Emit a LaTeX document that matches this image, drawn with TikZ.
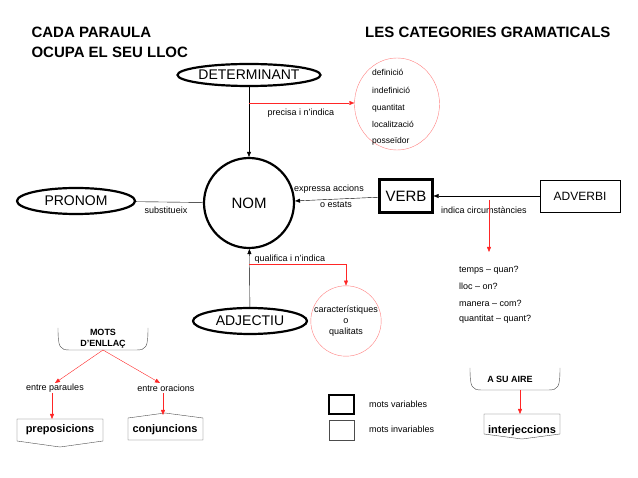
\documentclass[tikz,border=0pt]{standalone}
\usepackage{fontspec}
\setmainfont{Liberation Sans}
\usetikzlibrary{arrows.meta,shapes.geometric}
\begin{document}
\begin{tikzpicture}[x=1pt,y=-1pt,
 title/.style={font=\bfseries\fontsize{15}{17}\selectfont,anchor=west},
 big/.style={draw,line width=2.2pt,ellipse,inner sep=0pt,font=\fontsize{14}{16}\selectfont},
 lab/.style={font=\fontsize{9}{10}\selectfont,inner sep=1pt},
 arr/.style={-{Triangle[length=5pt,width=4pt]},black,thin},
 rarr/.style={-{Triangle[length=5pt,width=4pt]},red!85,thin},
 bk/.style={draw,gray!60!black,thin},
 bl/.style={font=\bfseries\fontsize{9}{11}\selectfont},
]
\useasboundingbox (0,0) rectangle (638,478);
\node[title] (t1) at (28,32) {CADA PARAULA};
\node[title] (t2) at (28,52) {OCUPA EL SEU LLOC};
\node[title,anchor=east] (t3) at (614,32) {LES CATEGORIES GRAMATICALS};

\node[big,minimum width=100,minimum height=22] (det) at (249,75) {DETERMINANT};
\node[draw,red!50,ellipse,minimum width=85,minimum height=92] (dc) at (397,104) {};
\foreach \t/\y in {definició/72,indefinició/90,quantitat/108,localització/124,posseïdor/141}
  \node[lab,anchor=west,font=\fontsize{8.5}{10}\selectfont] at (371,\y) {\t};
\node[draw,line width=2.2pt,circle,minimum size=90,font=\fontsize{15}{17}\selectfont] (nom) at (249,203) {NOM};
\draw[arr] (det) -- (nom);
\coordinate (p1) at (249,103);
\draw[rarr] (p1) -- (dc.west |- p1);
\node[lab] at (301,113) {precisa i n’indica};

\node[big,minimum width=118,minimum height=26] (pro) at (76,201) {PRONOM};
\draw[thin] (pro) -- (nom);
\node[lab] at (166,210) {substitueix};

\node[draw,line width=2.2pt,minimum width=53,minimum height=33,font=\fontsize{15}{17}\selectfont,inner sep=0pt] (verb) at (406,196) {VERB};
\draw[arr] (verb) -- (nom);
\node[lab] at (329,189) {expressa accions};
\node[lab] at (336,205) {o estats};
\node[draw,thin,minimum width=80,minimum height=32,font=\fontsize{12}{14}\selectfont,inner sep=0pt] (adv) at (580,196) {ADVERBI};
\draw[arr] (adv) -- (verb);
\node[lab] at (484,210) {indica circumstàncies};
\coordinate (v1) at (489,200);
\coordinate (v2) at (489,252);
\draw[rarr] (v1) -- (v2);
\foreach \t/\y in {temps – quan?/270,lloc – on?/286,manera – com?/303,quantitat – quant?/319}
  \node[lab,anchor=west] at (458,\y) {\t};

\node[big,minimum width=114,minimum height=26] (adj) at (250,321) {ADJECTIU};
\draw[arr] (adj) -- (nom);
\node[lab] at (290,259) {qualifica i n’indica};
\node[draw=red!50,circle,minimum size=64,inner sep=0pt,align=center,text=black,font=\fontsize{9}{11}\selectfont] (qc) at (346,321) {característiques\\o\\qualitats};
\coordinate (q1) at (249,264);
\draw[rarr] (q1) -- (qc.north |- q1) -- (qc.north);

% mots d'enllaç
\draw[bk] (58,328) .. controls (58,348) and (60,350) .. (70,350) -- (136,350) .. controls (146,350) and (148,348) .. (148,328);
\node[bl,align=center] (me) at (103,339) {MOTS\\D’ENLLAÇ};
\coordinate (me1) at (103,350);
\node[lab] (ep) at (55,388) {entre paraules};
\node[lab] (eo) at (166,388) {entre oracions};
\draw[rarr] (me1) -- (55,383);
\draw[rarr] (me1) -- (160,383);
\draw[bk] (17,419) -- (103,419) -- (103,441) -- (60,447) -- (17,441) -- cycle;
\node[bl,font=\bfseries\fontsize{11}{13}\selectfont] (prep) at (60,430) {preposicions};
\draw[bk] (128,418) -- (165,413) -- (203,418) -- (203,440) -- (128,440) -- cycle;
\node[bl,font=\bfseries\fontsize{11}{13}\selectfont] (conj) at (165,430) {conjuncions};
\draw[rarr] (52,393) -- (52,419);
\draw[rarr] (163,393) -- (163,415);

% a su aire
\draw[bk] (470,368) .. controls (470,388) and (472,390) .. (482,390) -- (548,390) .. controls (558,390) and (560,388) .. (560,368);
\node[bl] (asa) at (510,379) {A SU AIRE};
\draw[bk] (484,414) -- (560,414) -- (560,434) -- (522,439) -- (484,434) -- cycle;
\node[bl,font=\bfseries\fontsize{11}{13}\selectfont] (int) at (522,431) {interjeccions};
\draw[rarr] (520,390) -- (520,414);

% legend
\draw[line width=2.2pt] (329,395) rectangle (354,414);
\draw[bk] (329,420) rectangle (354,440);
\node[lab,anchor=west] at (368,404) {mots variables};
\node[lab,anchor=west] at (368,429) {mots invariables};
\end{tikzpicture}
\end{document}
